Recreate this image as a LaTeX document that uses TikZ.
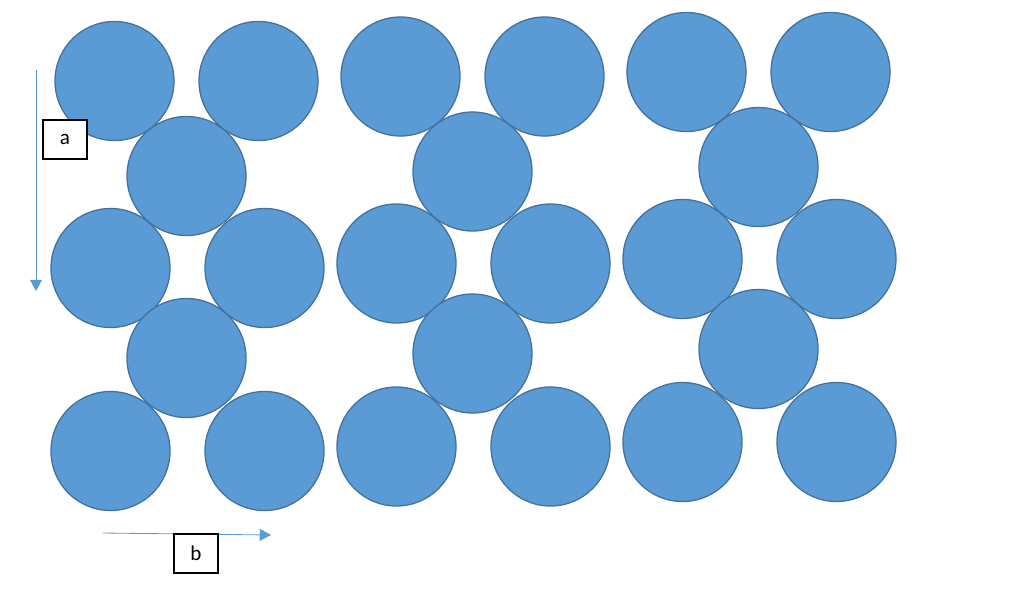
\documentclass[tikz,border=0pt]{standalone}
\usepackage{fontspec}
\setmainfont{Carlito}
\usetikzlibrary{arrows.meta, positioning}

\definecolor{ballfill}{HTML}{5B9BD5}
\definecolor{balledge}{HTML}{41719C}

\begin{document}
\begin{tikzpicture}[
    x=0.025cm, y=-0.025cm,
    ball/.style={circle, draw=balledge, fill=ballfill, line width=0.9pt, minimum size=2.975cm, inner sep=0pt},
    labelbox/.style={draw=black, line width=1.1pt, fill=white, minimum width=1.1cm, minimum height=0.975cm, inner sep=0pt, font=\fontsize{15}{18}\selectfont},
    axisarrow/.style={-{Triangle[length=8pt, width=8.5pt]}, line width=0.6pt, color=ballfill}
]
\useasboundingbox (0,0) rectangle (1024,606);

% === BALLS, three groups ===
\foreach \g in {0,1,2} {
    \pgfmathsetmacro{\dx}{286*\g}
    \pgfmathsetmacro{\dy}{-4.5*\g}
    \node[ball] (b\g-1) at (114.5+\dx, 81+\dy) {};
    \node[ball] (b\g-2) at (258.5+\dx, 81+\dy) {};
    \node[ball] (b\g-3) at (186.5+\dx, 176+\dy) {};
    \node[ball] (b\g-4) at (110.5+\dx, 268+\dy) {};
    \node[ball] (b\g-5) at (264.5+\dx, 268+\dy) {};
    \node[ball] (b\g-6) at (186.5+\dx, 358+\dy) {};
    \node[ball] (b\g-7) at (110.5+\dx, 451+\dy) {};
    \node[ball] (b\g-8) at (264.5+\dx, 451+\dy) {};
}

% === AXIS ARROWS ===
\coordinate (atop) at (36, 70);
\coordinate (abot) at (36, 291);
\draw[axisarrow] (atop) -- (abot);

\coordinate (bleft) at (103, 533);
\coordinate (bright) at (271, 535);
\draw[axisarrow] (bleft) -- (bright);

% === LABELS ===
\node[labelbox] (alabel) at (65, 139.5) {a};
\node[labelbox] (blabel) at (196, 553.5) {b};

\end{tikzpicture}
\end{document}
